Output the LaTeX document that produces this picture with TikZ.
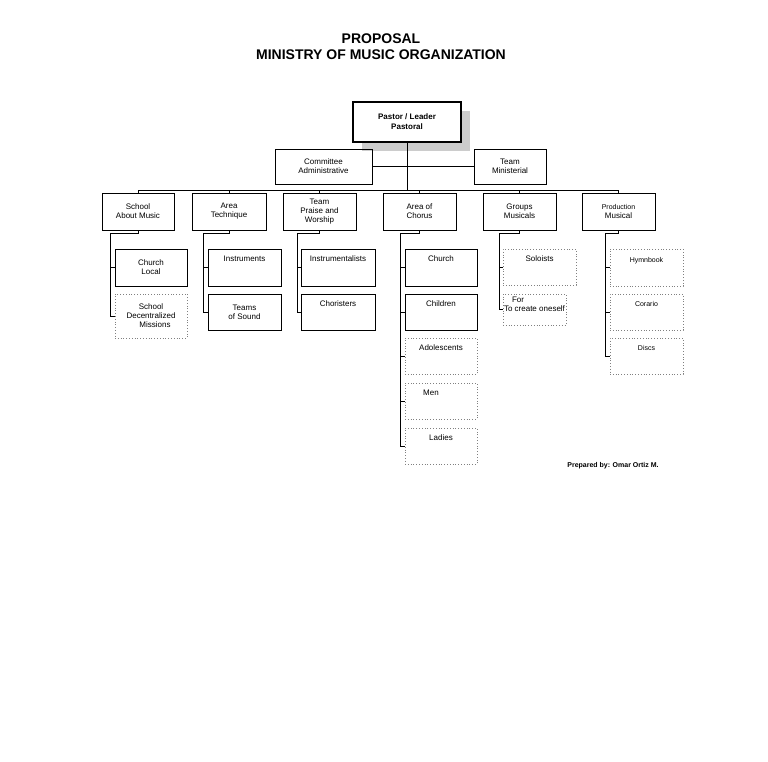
\documentclass[tikz,border=0pt]{standalone}
\usepackage{fontspec}
\setmainfont{Liberation Sans}
\usepackage{tikz}

\tikzset{
  box/.style={draw, line width=0.8pt, align=center, font=\fontsize{8}{9}\selectfont, inner sep=1pt},
  dotbox/.style={box, dotted, draw=gray},
  link/.style={line width=0.8pt}
}

\begin{document}
\begin{tikzpicture}[x=1pt,y=-1pt]
		\useasboundingbox (0,0) rectangle (768,761);
		\node[font=\bfseries\fontsize{14}{16}\selectfont, align=center] (title) at (381,47) {PROPOSAL\\MINISTRY OF MUSIC ORGANIZATION};
		
		% top
		\fill[gray!40] (362,111) rectangle (470,151);
		\node[box, fill=white, line width=1.6pt, minimum width=108pt, minimum height=40pt, font=\bfseries\fontsize{8}{10}\selectfont] (pastor) at (407,122) {Pastor / Leader\\Pastoral};
		\node[box, minimum width=97pt, minimum height=35pt] (comm) at (323.5,166.5) {Committee\\Administrative};
		\node[box, minimum width=72pt, minimum height=35pt] (minis) at (510,166.5) {Team\\Ministerial};
		\draw[link] (comm.east) -- (minis.west);
		\draw[link] (pastor.south) -- (407,190);
		\draw[link] (138,190) -- (618,190);
		
		% second row
		\foreach \name/\x/\w/\txt in {sch/138/72/School\\About Music, tec/229/74/Area\\Technique,
			pra/319.5/73/Team\\Praise and\\Worship, cho/419.5/73/Area of\\Chorus,
			grp/519.5/73/Groups\\Musicals, prod/618.5/73/{\fontsize{7}{8}\selectfont Production\\Musical}}{
			\node[box, minimum width=\w pt, minimum height=37pt] (\name) at (\x,211.5) {\txt};
			\draw[link] (\name.north) -- (\x,190);
		}
		
		% children
		\node[box, minimum width=72pt, minimum height=37pt] (chl) at (151,267.5) {Church\\Local};
		\node[dotbox, minimum width=72pt, minimum height=44pt] (sdm) at (151,316) {School\\Decentralized\\\quad Missions};
		\node[box, minimum width=73pt, minimum height=37pt] (ins) at (244.5,267.5) {Instruments\\[8pt]};
		\node[box, minimum width=73pt, minimum height=36pt] (snd) at (244.5,312) {Teams\\of Sound};
		\node[box, minimum width=74pt, minimum height=37pt] (inm) at (338,267.5) {Instrumentalists\\[8pt]};
		\node[box, minimum width=74pt, minimum height=36pt] (chr) at (338,312) {Choristers\\[8pt]};
		\node[box, minimum width=72pt, minimum height=37pt] (chu) at (441,267.5) {Church\\[8pt]};
		\node[box, minimum width=72pt, minimum height=36pt] (chi) at (441,312) {Children\\[8pt]};
		\node[dotbox, minimum width=72pt, minimum height=36pt] (ado) at (441,356) {Adolescents\\[8pt]};
		\node[dotbox, minimum width=72pt, minimum height=36pt] (men) at (441,401) {\hspace*{-20pt}Men\\[8pt]};
		\node[dotbox, minimum width=72pt, minimum height=36pt] (lad) at (441,446) {Ladies\\[8pt]};
		\node[dotbox, minimum width=73pt, minimum height=36pt] (sol) at (539.5,267) {Soloists\\[8pt]};
		\node[dotbox, minimum width=63pt, minimum height=31pt, align=left] (own) at (534.5,309.5) {\quad For\\To create oneself\\[2pt]};
		\node[dotbox, minimum width=73pt, minimum height=37pt, font=\fontsize{7}{8}\selectfont] (hym) at (646.5,267.5) {Hymnbook\\[8pt]};
		\node[dotbox, minimum width=73pt, minimum height=36pt, font=\fontsize{7}{8}\selectfont] (cor) at (646.5,312) {Corario\\[8pt]};
		\node[dotbox, minimum width=73pt, minimum height=36pt, font=\fontsize{7}{8}\selectfont] (dis) at (646.5,356) {Discs\\[8pt]};
		
		% spines
		\draw[link] (sch.south) -- ++(0,3) -| ([xshift=-4pt]sdm.west) -- (sdm.west);
		\draw[link] ([xshift=-4pt]chl.west) -- (chl.west);
		\draw[link] (tec.south) -- ++(0,3) -| ([xshift=-4pt]snd.west) -- (snd.west);
		\draw[link] ([xshift=-4pt]ins.west) -- (ins.west);
		\draw[link] (pra.south) -- ++(0,3) -| ([xshift=-3pt]chr.west) -- (chr.west);
		\draw[link] ([xshift=-3pt]inm.west) -- (inm.west);
		\draw[link] (cho.south) -- ++(0,3) -| ([xshift=-4pt]lad.west) -- (lad.west);
		\foreach \n in {chu,chi,ado,men}{
			\draw[link] ([xshift=-4pt]\n.west) -- (\n.west);
		}
		\draw[link] (grp.south) -- ++(0,3) -| ([xshift=-3pt]own.west) -- (own.west);
		\draw[link] ([xshift=-3pt]sol.west) -- (sol.west);
		\draw[link] (prod.south) -- ++(0,3) -| ([xshift=-4pt]dis.west) -- (dis.west);
		\draw[link] ([xshift=-4pt]hym.west) -- (hym.west);
		\draw[link] ([xshift=-4pt]cor.west) -- (cor.west);
		
		\node[font=\bfseries\fontsize{7}{8}\selectfont] (prep) at (613,466) {Prepared by: Omar Ortiz M.};
	\end{tikzpicture}
\end{document}
